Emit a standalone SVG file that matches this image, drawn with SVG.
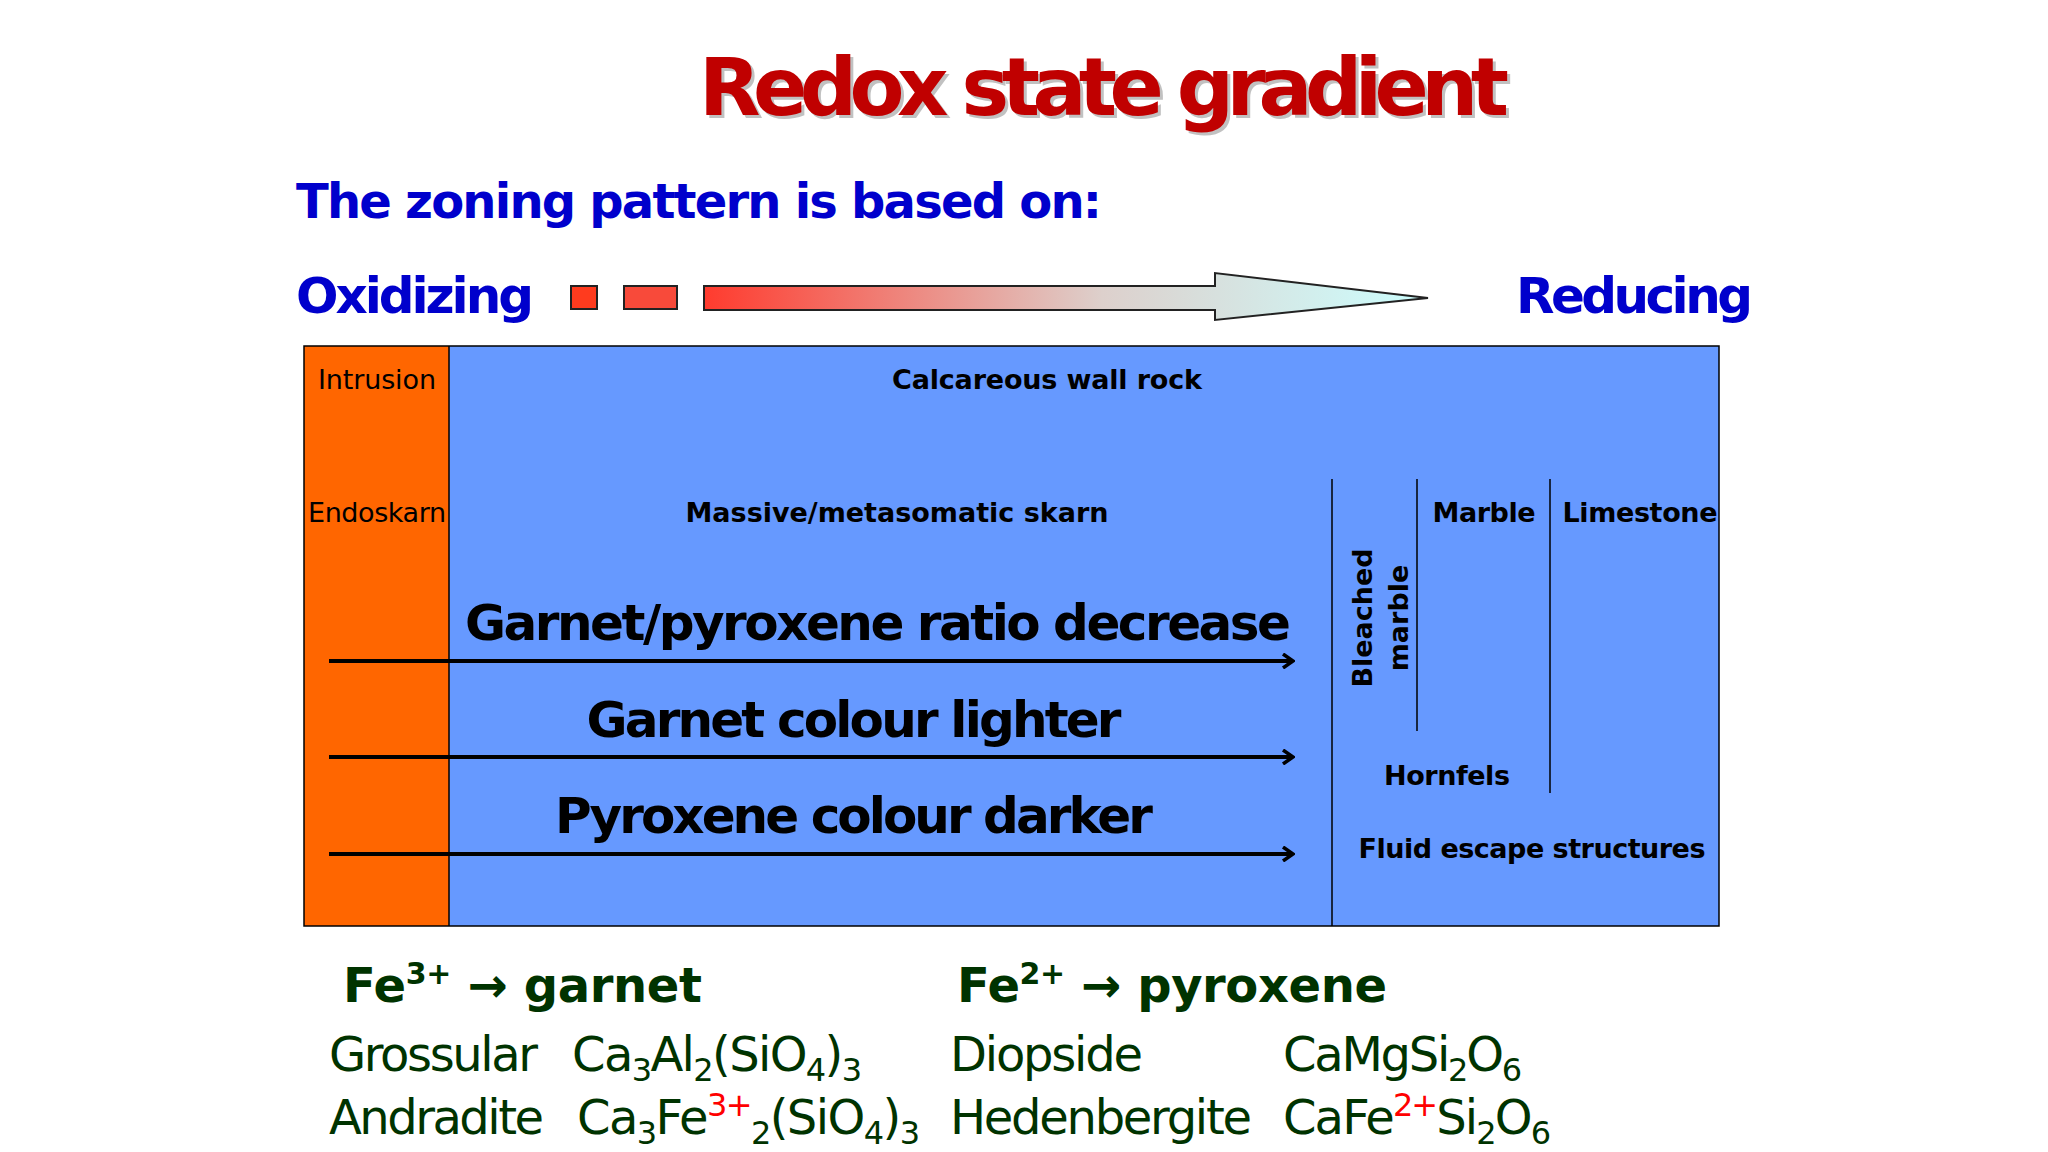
<svg xmlns="http://www.w3.org/2000/svg" width="2048" height="1152" viewBox="0 0 2048 1152">
<defs>
<style>
text{font-family:"DejaVu Sans","Liberation Sans",sans-serif}
.b{font-weight:bold}
.lbl{font-size:27px;fill:#000}
.big{font-size:50px;font-weight:bold;fill:#000}
.blue{fill:#0000CC;font-weight:bold}
.grn{fill:#003300;font-size:48px}
.conn{stroke:#000;stroke-width:4;fill:none;marker-end:url(#ah)}
.vl{stroke:#000;stroke-width:1.5}
</style>
<linearGradient id="gr" x1="0" x2="1" y1="0" y2="0">
<stop offset="0" stop-color="#FF3B2E"/>
<stop offset="0.55" stop-color="#DDD0CC"/>
<stop offset="1" stop-color="#CCFFFF"/>
</linearGradient>
<marker id="ah" markerWidth="14" markerHeight="16" refX="12" refY="8" orient="auto" markerUnits="userSpaceOnUse">
<path d="M2,1 L12,8 L2,15" fill="none" stroke="#000" stroke-width="3.5"/>
</marker>
</defs>
<rect width="2048" height="1152" fill="#fff"/>
<g id="title">
<text x="1107" y="118" text-anchor="middle" class="b" font-size="80" fill="#999" opacity="0.6" textLength="810">Redox state gradient</text>
<text x="1104" y="115" text-anchor="middle" class="b" font-size="80" fill="#C00000" textLength="810">Redox state gradient</text>
</g>
<text x="296" y="218" class="blue" font-size="48" textLength="806">The zoning pattern is based on:</text>
<text x="296" y="313" class="blue" font-size="50" textLength="238">Oxidizing</text>
<text x="1516" y="313" class="blue" font-size="50" textLength="237">Reducing</text>
<g id="gradient-arrow" stroke="#222" stroke-width="2">
<rect x="571" y="286" width="26" height="23" fill="#FF3B1E"/>
<rect x="624" y="286" width="53" height="23" fill="#F84A3A"/>
<path d="M704,286 L1215,286 L1215,273 L1428,298 L1215,320 L1215,310 L704,310 Z" fill="url(#gr)"/>
</g>
<g id="box">
<rect x="449" y="346" width="1270" height="580" fill="#6699FF"/>
<rect x="304" y="346" width="145" height="580" fill="#FF6600"/>
<rect x="304" y="346" width="1415" height="580" fill="none" stroke="#000" stroke-width="1.5"/>
<line x1="449" y1="346" x2="449" y2="926" class="vl"/>
<line x1="1332" y1="479" x2="1332" y2="926" class="vl"/>
<line x1="1417" y1="479" x2="1417" y2="731" class="vl"/>
<line x1="1550" y1="479" x2="1550" y2="793" class="vl"/>
</g>
<g id="labels">
<text x="377" y="389" text-anchor="middle" class="lbl" textLength="118">Intrusion</text>
<text x="1047" y="389" text-anchor="middle" class="lbl b" textLength="310">Calcareous wall rock</text>
<text x="377" y="522" text-anchor="middle" class="lbl" textLength="138">Endoskarn</text>
<text x="897" y="522" text-anchor="middle" class="lbl b" textLength="423">Massive/metasomatic skarn</text>
<text x="1484" y="522" text-anchor="middle" class="lbl b" textLength="103">Marble</text>
<text x="1640" y="522" text-anchor="middle" class="lbl b" textLength="155">Limestone</text>
<text transform="translate(1372,618) rotate(-90)" text-anchor="middle" class="lbl b">Bleached</text>
<text transform="translate(1408,618) rotate(-90)" text-anchor="middle" class="lbl b">marble</text>
<text x="1447" y="785" text-anchor="middle" class="lbl b" textLength="126">Hornfels</text>
<text x="1532" y="858" text-anchor="middle" class="lbl b" textLength="347">Fluid escape structures</text>
<text x="878" y="640" text-anchor="middle" class="big" textLength="826">Garnet/pyroxene ratio decrease</text>
<text x="854" y="737" text-anchor="middle" class="big" textLength="535">Garnet colour lighter</text>
<text x="854" y="833" text-anchor="middle" class="big" textLength="598">Pyroxene colour darker</text>
</g>
<g id="connectors">
<line x1="329" y1="661" x2="1293" y2="661" class="conn"/>
<line x1="329" y1="757" x2="1293" y2="757" class="conn"/>
<line x1="329" y1="854" x2="1293" y2="854" class="conn"/>
</g>
<g id="formulas" class="grn">
<text x="343" y="1002" class="b" textLength="359">Fe<tspan dy="-18" font-size="30">3+</tspan><tspan dy="18"> → garnet</tspan></text>
<text x="957" y="1002" class="b" textLength="430">Fe<tspan dy="-18" font-size="30">2+</tspan><tspan dy="18"> → pyroxene</tspan></text>
<text x="329" y="1071" textLength="209">Grossular</text>
<text x="572" y="1071" textLength="290">Ca<tspan dy="10" font-size="32">3</tspan><tspan dy="-10">Al</tspan><tspan dy="10" font-size="32">2</tspan><tspan dy="-10">(SiO</tspan><tspan dy="10" font-size="32">4</tspan><tspan dy="-10">)</tspan><tspan dy="10" font-size="32">3</tspan></text>
<text x="329" y="1134" textLength="215">Andradite</text>
<text x="577" y="1134" textLength="343">Ca<tspan dy="10" font-size="32">3</tspan><tspan dy="-10">Fe</tspan><tspan dy="-18" font-size="32" fill="#FF0000">3+</tspan><tspan dy="28" font-size="32">2</tspan><tspan dy="-10">(SiO</tspan><tspan dy="10" font-size="32">4</tspan><tspan dy="-10">)</tspan><tspan dy="10" font-size="32">3</tspan></text>
<text x="950" y="1071" textLength="193">Diopside</text>
<text x="1283" y="1071" textLength="239">CaMgSi<tspan dy="10" font-size="32">2</tspan><tspan dy="-10">O</tspan><tspan dy="10" font-size="32">6</tspan></text>
<text x="950" y="1134" textLength="302">Hedenbergite</text>
<text x="1283" y="1134" textLength="268">CaFe<tspan dy="-18" font-size="32" fill="#FF0000">2+</tspan><tspan dy="18">Si</tspan><tspan dy="10" font-size="32">2</tspan><tspan dy="-10">O</tspan><tspan dy="10" font-size="32">6</tspan></text>
</g>
</svg>
